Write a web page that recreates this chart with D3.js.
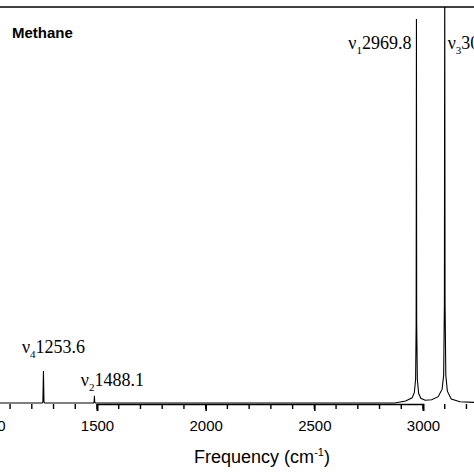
<!DOCTYPE html>
<html><head><meta charset="utf-8">
<script src="https://cdn.jsdelivr.net/npm/d3@7"></script>
<style>body{margin:0;background:#fff}</style></head>
<body><svg id="c" width="474" height="474"></svg>
<script>
const tickValues = [1000,1500,2000,2500,3000];
const minorTicks = d3.range(1000,3300,100);
// spectrum points [frequency, intensity]
const freq = [1000,1248,1251,1253.6,1256,1259,1484,1486.5,1488.1,1489.7,1492,2870,2920,2950,2960,2966,2968.5,2969.8,2971,2974,2980,2990,3010,3040,3070,3088,3095,3098.5,3100,3101.5,3105,3112,3130,3170,3260];
const inten = [0,0,0.3,8.1,0.3,0,0,0.2,1.8,0.2,0,0,0.5,1.3,2.6,6,20,97,20,6,2.4,1.2,0.7,0.8,1.6,3.5,7,25,110,25,7,3,1,0.3,0.1];
const peakLabels = [
 {sub:"1", val:"2969.8", f:2969.8, anchor:"end", dx:-5, y:49},
 {sub:"3", val:"3019.5", f:3100, anchor:"start", dx:3, y:49},
 {sub:"4", val:"1253.6", f:1253.6, anchor:"middle", dx:10, y:353},
 {sub:"2", val:"1488.1", f:1488.1, anchor:"middle", dx:18, y:386}
];
const svg = d3.select("#c");
const x = d3.scaleLinear().domain([1500,3000]).range([97,423]);
const y = d3.scaleLinear().domain([0,100]).range([403,7]);
svg.append("defs").append("clipPath").attr("id","cp").append("rect").attr("x",0).attr("y",7).attr("width",474).attr("height",397);
svg.append("line").attr("x1",0).attr("x2",474).attr("y1",7).attr("y2",7).attr("stroke","#000").attr("stroke-width",1.5);
svg.append("path").attr("clip-path","url(#cp)")
  .attr("d", d3.line().x((d,i)=>x(freq[i])).y((d,i)=>y(inten[i]))(freq))
  .attr("fill","none").attr("stroke","#000").attr("stroke-width",1.1);
const ax = svg.append("g").attr("transform","translate(0,404)")
  .call(d3.axisBottom(x).tickValues(tickValues).tickSize(7).tickPadding(9).tickFormat(d3.format("d")));
ax.select(".domain").attr("stroke-width",1.6);
ax.selectAll(".tick line").attr("stroke-width",1.6);
ax.selectAll("text").attr("font-family","Liberation Sans, Arial").attr("font-size",15);
svg.append("g").selectAll("line").data(minorTicks).join("line")
  .attr("x1",d=>x(d)).attr("x2",d=>x(d)).attr("y1",404).attr("y2",409).attr("stroke","#000").attr("stroke-width",1.4);
const t = svg.append("text").attr("x",262).attr("y",463).attr("text-anchor","middle")
  .attr("font-family","Liberation Sans, Arial").attr("font-size",18);
t.append("tspan").text("Frequency (cm");
t.append("tspan").attr("font-size",11).attr("dy",-7).text("-1");
t.append("tspan").attr("dy",7).text(")");
svg.append("text").attr("x",12).attr("y",38).attr("font-family","Liberation Sans, Arial")
  .attr("font-weight","bold").attr("font-size",15).text("Methane");
peakLabels.forEach(p=>{
  const tx = svg.append("text").attr("x",x(p.f)+p.dx).attr("y",p.y).attr("text-anchor",p.anchor)
    .attr("font-family","Liberation Serif, Times New Roman").attr("font-size",18);
  tx.append("tspan").text("ν");
  tx.append("tspan").attr("font-size",11).attr("dy",5).text(p.sub);
  tx.append("tspan").attr("dy",-5).text(p.val);
});
</script></body></html>
